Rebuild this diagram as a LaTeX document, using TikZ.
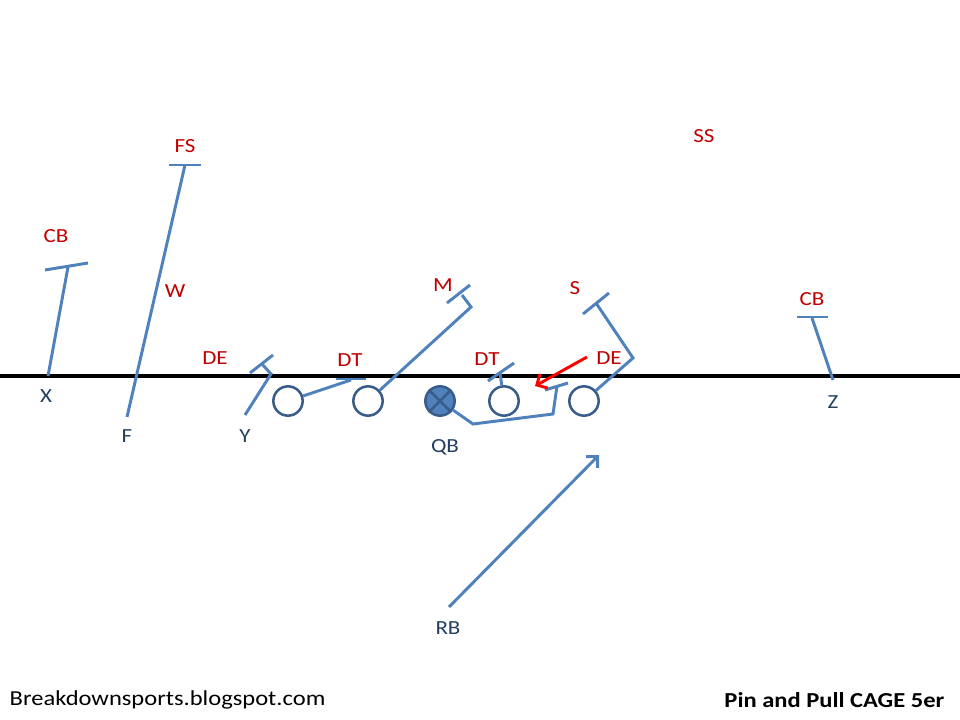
\documentclass[tikz,border=0pt]{standalone}
\usepackage{fontspec}
\setmainfont{Carlito}[FakeStretch=1.15]
\usetikzlibrary{arrows.meta}

\definecolor{routeblue}{HTML}{4F81BD}
\definecolor{lineblue}{HTML}{385D8A}
\definecolor{defred}{HTML}{C00000}
\definecolor{offblue}{HTML}{243F60}

\begin{document}
\begin{tikzpicture}[x=0.75pt,y=-0.75pt,
  route/.style={routeblue,line width=2.2pt},
  lineman/.style={circle,draw=lineblue,line width=1.9pt,fill=white,minimum size=22pt,inner sep=0pt},
  defense/.style={text=defred,font=\fontsize{15}{18}\selectfont},
  offense/.style={text=offblue,font=\fontsize{15}{18}\selectfont}]

\useasboundingbox[fill=white] (0,0) rectangle (960,720);

% line of scrimmage
\draw[black,line width=2.5pt] (0,376) -- (960,376);

% offense
\node[lineman] (lg) at (288,401) {};
\node[lineman] (c) at (368,401) {};
\node[lineman,fill=routeblue] (qb) at (440,401) {};
\draw[lineblue,line width=1.9pt] (qb.north west) -- (qb.south east);
\draw[lineblue,line width=1.9pt] (qb.north east) -- (qb.south west);
\node[lineman] (rg) at (504,401) {};
\node[lineman] (rt) at (584,401) {};

\node[offense] (xlab) at (46,396) {X};
\node[offense] (flab) at (127,436) {F};
\node[offense] (ylab) at (245,436) {Y};
\node[offense] (qblab) at (445,447) {QB};
\node[offense] (rblab) at (448,628) {RB};
\node[offense] (zlab) at (833,402) {Z};

% defense
\node[defense] (cbl) at (56,236) {CB};
\node[defense] (fs) at (185,146) {FS};
\node[defense] (w) at (175,291) {W};
\node[defense] (del) at (215,358) {DE};
\node[defense] (dtl) at (350,360) {DT};
\node[defense] (m) at (443,285) {M};
\node[defense] (dtr) at (487,359) {DT};
\node[defense] (s) at (575,288) {S};
\node[defense] (der) at (609,358) {DE};
\node[defense] (ss) at (704,136) {SS};
\node[defense] (cbr) at (812,299) {CB};

% route points
\coordinate (xs) at (48,376);
\coordinate (xcb) at (68,267);
\coordinate (fst) at (127,417);
\coordinate (ffs) at (185,165);
\coordinate (yst) at (245,415);
\coordinate (yk) at (271,374);
\coordinate (yde) at (262,364);
\coordinate (lgdt) at (351,380);
\coordinate (ck) at (471,307);
\coordinate (cm) at (462,295);
\coordinate (p1) at (473,424);
\coordinate (p2) at (553,414);
\coordinate (p3) at (557,386);
\coordinate (rgdt) at (500,373);
\coordinate (rtk) at (633,358);
\coordinate (rts) at (596,303);
\coordinate (zst) at (833,380);
\coordinate (zcb) at (812,318);
\coordinate (rbs) at (449,607);
\coordinate (rbe) at (599,455);
\coordinate (des) at (587,357);
\coordinate (dee) at (535,386);

% blocks
\draw[route] (xs) -- (xcb);
\draw[route] (45,270) -- (88,263);
\draw[route] (fst) -- (ffs);
\draw[route] (169,165) -- (201,165);
\draw[route] (yst) -- (yk) -- (yde);
\draw[route] (250,373) -- (273,355);
\draw[route] (lg) -- (lgdt);
\draw[route] (336,379) -- (366,379);
\draw[route] (c) -- (ck) -- (cm);
\draw[route] (447,303) -- (470,285);
\draw[route] (qb) -- (p1) -- (p2) -- (p3);
\draw[route] (545,390) -- (568,383);
\draw[route] (rg) -- (rgdt);
\draw[route] (488,381) -- (514,363);
\draw[route] (rt) -- (rtk) -- (rts);
\draw[route] (583,314) -- (609,293);
\draw[route] (zst) -- (zcb);
\draw[route] (797,317) -- (828,317);

% runner and pulled DE
\draw[route,-{Straight Barb[length=6pt,width=12pt]}] (rbs) -- (rbe);
\draw[red,line width=2.2pt,-{Straight Barb[length=6pt,width=12pt]}] (des) -- (dee);

% footer
\node[anchor=west,font=\fontsize{16}{18}\selectfont] (site) at (5,700) {Breakdownsports.blogspot.com};
\node[anchor=east,font=\fontsize{16}{18}\selectfont\bfseries] (title) at (949,700) {Pin and Pull CAGE 5er};
\end{tikzpicture}
\end{document}
